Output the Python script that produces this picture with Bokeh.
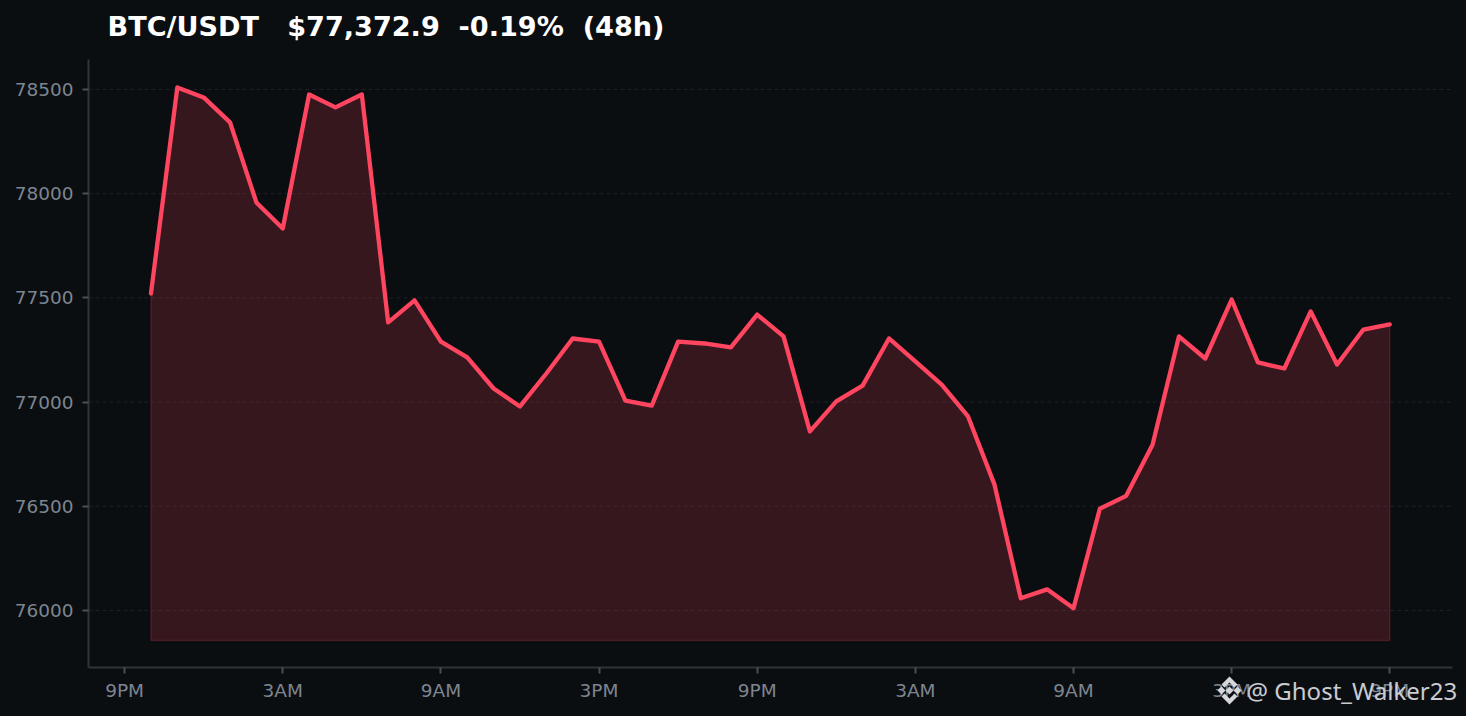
from bokeh.plotting import figure
from bokeh.models import Range1d, FixedTicker
from bokeh.core.properties import value
from bokeh.embed import file_html
from bokeh.resources import INLINE

BG = "#0b0e11"
RED = "#ff4560"

hours = list(range(1, 49))
prices = [77521, 78510, 78462, 78342, 77958, 77833, 78476, 78414, 78476, 77382,
          77488, 77290, 77214, 77065, 76979, 77137, 77305, 77290, 77007, 76983,
          77290, 77281, 77262, 77420, 77315, 76859, 77003, 77079, 77305, 77195,
          77084, 76931, 76605, 76058, 76101, 76010, 76488, 76550, 76795, 77315,
          77209, 77492, 77190, 77161, 77435, 77180, 77348, 77372.9]
fill_floor = 75856
x_ticks = [0, 6, 12, 18, 24, 30, 36, 42, 48]
x_labels = ["9PM", "3AM", "9AM", "3PM", "9PM", "3AM", "9AM", "3PM", "9PM"]
y_ticks = [76000, 76500, 77000, 77500, 78000, 78500]
title_text = "BTC/USDT\u00a0\u00a0\u00a0$77,372.9\u00a0\u00a0-0.19%\u00a0\u00a0(48h)"
watermark = "@ Ghost_Walker23"

W, H = 1466, 716
# axes box in page pixels and its data limits; the frame fills the whole page so that
# title and watermark can be drawn outside that box
AX_L, AX_R, AX_T, AX_B = 88, 1452, 59, 667
XA0, XA1, YA0, YA1 = -1.37, 50.38, 75726, 78644

def dx(px):
    return XA0 + (px - AX_L) / (AX_R - AX_L) * (XA1 - XA0)
def dy(py):
    return YA0 + (AX_B - py) / (AX_B - AX_T) * (YA1 - YA0)

p = figure(width=W, height=H, output_backend="svg", toolbar_location=None,
           x_range=Range1d(dx(0), dx(W)), y_range=Range1d(dy(H), dy(0)),
           background_fill_color=BG, border_fill_color=BG,
           min_border_left=0, min_border_right=0, min_border_top=0, min_border_bottom=0)
p.outline_line_color = None
p.grid.visible = False

for ax in (p.xaxis[0], p.yaxis[0]):
    ax.axis_line_color = "#2f343b"
    ax.axis_line_width = 2
    ax.major_tick_line_color = "#4a4f57"
    ax.major_tick_line_width = 2
    ax.major_tick_out = 6
    ax.major_tick_in = 0
    ax.minor_tick_line_color = None
    ax.major_label_text_color = "#7d8590"
    ax.major_label_text_font = "DejaVu Sans"
    ax.major_label_text_font_size = "18.5px"

p.xaxis[0].major_label_standoff = 6
p.yaxis[0].major_label_standoff = 9
p.xaxis[0].fixed_location = YA0
p.yaxis[0].fixed_location = XA0
p.xaxis[0].bounds = (XA0, XA1)
p.yaxis[0].bounds = (YA0, YA1)
p.xaxis[0].ticker = FixedTicker(ticks=x_ticks)
p.xaxis[0].major_label_overrides = dict(zip(x_ticks, x_labels))
p.yaxis[0].ticker = FixedTicker(ticks=y_ticks)
p.yaxis[0].formatter.use_scientific = False
p.yaxis[0].formatter.power_limit_high = 10

# horizontal grid, limited to the axes box
p.segment(x0=[XA0] * len(y_ticks), x1=[XA1] * len(y_ticks), y0=y_ticks, y1=y_ticks,
          line_color="#2a2e35", line_dash="4 3", line_alpha=0.6, line_width=1)

p.patch(hours + hours[::-1], prices + [fill_floor] * len(hours),
        fill_color=RED, fill_alpha=0.18, line_color=RED, line_alpha=0.18, line_width=1.5)
p.line(hours, prices, line_color=RED, line_width=4.3, line_join="round", line_cap="round")

p.text(x=[dx(107)], y=[dy(26)], text=[title_text], text_color="#ffffff",
       text_font=value("DejaVu Sans"), text_font_style="bold", text_font_size="27.1px",
       text_align="left", text_baseline="middle", level="annotation")
p.text(x=[dx(1246)], y=[dy(690)], text=[watermark], text_color="#c9ccd1",
       text_font=value("Noto Sans"), text_font_size="24px",
       text_align="left", text_baseline="middle", level="annotation")

# watermark logo, offsets in page pixels round its centre
cx, cy = 1229, 690
logo = [[(0, -4), (4, 0), (0, 4), (-4, 0)],
        [(-8, -4), (-4, 0), (-8, 4), (-12, 0)],
        [(8, -4), (12, 0), (8, 4), (4, 0)],
        [(0, -14), (8, -6), (5, -3), (0, -8), (-5, -3), (-8, -6)],
        [(0, 14), (8, 6), (5, 3), (0, 8), (-5, 3), (-8, 6)]]
p.patches(xs=[[dx(cx + a) for a, b in s] for s in logo],
          ys=[[dy(cy + b) for a, b in s] for s in logo],
          fill_color="#d5d7da", line_color=None, level="annotation")

html = file_html(p, INLINE)
html = html.replace("<head>", "<head><style>html,body{background:%s}</style>" % BG, 1)
open("out.html", "w").write(html)
